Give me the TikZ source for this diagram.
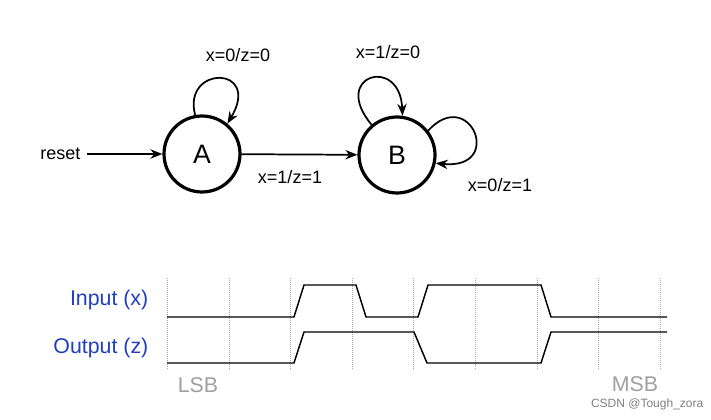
\documentclass[tikz,border=0pt]{standalone}
\usepackage{fontspec}
\setmainfont{Liberation Sans}
\usetikzlibrary{arrows.meta}
\definecolor{lblue}{HTML}{1F3FBF}
\definecolor{lgray}{HTML}{A0A0A0}
\begin{document}
\begin{tikzpicture}[x=0.75pt,y=-0.75pt,
  state/.style={circle,draw,line width=2.4pt,minimum size=57pt,inner sep=0pt,font=\fontsize{20}{22}\selectfont},
  arr/.style={line width=1.3pt,-{Stealth[length=9pt,width=7pt]}},
  lbl/.style={font=\fontsize{13.5}{15}\selectfont},
  sig/.style={line width=1.1pt},
  grid/.style={gray!70,densely dotted,line width=0.5pt},
  side/.style={font=\fontsize{16}{18}\selectfont,text=lblue,anchor=east},
  bit/.style={font=\fontsize{16}{18}\selectfont,text=lgray}]
\useasboundingbox (0,0) rectangle (711,420);
\node[state] (A) at (202,154) {A};
\node[state] (B) at (397,155) {B};
\node[lbl,anchor=east,inner sep=1pt] (r) at (82,154) {reset};
\draw[arr] ([xshift=4pt]r.east) -- (A);
\draw[arr] (A) -- (B);
\node[lbl] (l1) at (290,177) {x=1/z=1};
\draw[arr] (A.100) .. controls (182,65) and (262,65) .. (A.50);
\node[lbl] (l0) at (238,55) {x=0/z=0};
\draw[arr] (B.130) .. controls (330,75) and (400,55) .. (B.82);
\node[lbl] (l2) at (388,52) {x=1/z=0};
\draw[arr] (B.38) .. controls (470,85) and (505,170) .. (B.-12);
\node[lbl] (l3) at (500,185) {x=0/z=1};
\foreach \x in {167,229,290,352,413,475,537,598,660}
  \draw[grid] (\x,278) -- (\x,370);
\node[side] (ix) at (153,300) {Input (x)};
\node[side] (oz) at (153,348) {Output (z)};
\draw[sig] (167,317) -- (294,317) -- (304,285) -- (356,285) -- (366,317) -- (418,317) -- (428,285) -- (541,285) -- (551,317) -- (667,317);
\draw[sig] (167,363) -- (294,363) -- (304,332) -- (414,332) -- (427,363) -- (541,363) -- (551,332) -- (667,332);
\node[bit] (lsb) at (198,385) {LSB};
\node[bit] (msb) at (635,384) {MSB};
\node[font=\fontsize{9}{10}\selectfont,text=gray,anchor=east] (wm) at (708,404) {CSDN @Tough\_zora};
\end{tikzpicture}
\end{document}
